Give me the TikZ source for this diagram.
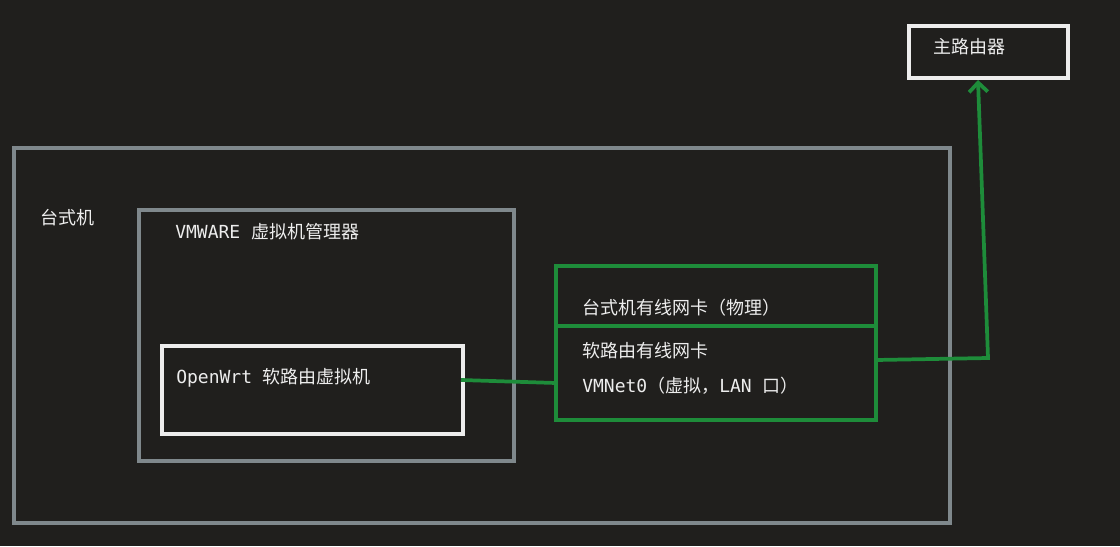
\documentclass[tikz,border=0pt]{standalone}
\usepackage{fontspec}
\usetikzlibrary{arrows.meta}
\newfontfamily\cjk{Noto Sans CJK SC}
\newfontfamily\mono{DejaVu Sans Mono}
\definecolor{bg}{HTML}{201F1D}
\definecolor{gbox}{HTML}{7F888C}
\definecolor{grn}{HTML}{1E8C3A}
\definecolor{wht}{HTML}{EDEDED}
\begin{document}
\begin{tikzpicture}[x=0.75pt,y=-0.75pt,
  lbl/.style={anchor=west,text=wht,font=\fontsize{13.5}{16}\selectfont,inner sep=0pt},
  gline/.style={draw=grn,line width=2.8pt},
  wline/.style={draw=wht,line width=2.8pt},
  box/.style={draw=gbox,line width=2.6pt}]
\fill[bg] (0,0) rectangle (1120,546);
\useasboundingbox (0,0) rectangle (1120,546);
\draw[box] (14,148) rectangle (950,523);
\draw[box] (139,210) rectangle (514,461);
\node[lbl] (tai) at (40,218) {\cjk 台式机};
\node[lbl] (vm) at (175,232) {\mono VMWARE \cjk 虚拟机管理器};
\draw[wline] (162,346) rectangle (463,434);
\coordinate (owr) at (461,380);
\node[lbl] (ow) at (176,378) {\mono OpenWrt \cjk 软路由虚拟机};
\draw[gline] (556,266) rectangle (876,420);
\draw[gline] (556,326) -- (874,326);
\coordinate (gl) at (556,383);
\coordinate (gr) at (876,360);
\node[lbl] (n1) at (582,308) {\cjk 台式机有线网卡（物理）};
\node[lbl] (n2) at (582,351) {\cjk 软路由有线网卡};
\node[lbl] (n3) at (582,386) {\mono VMNet0\cjk （虚拟，\mono LAN \cjk 口）};
\draw[wline] (909,26) rectangle (1068,78);
\node[lbl] (r) at (933,47) {\cjk 主路由器};
\coordinate (ra) at (978,80);
\draw[gline] (owr) -- (gl);
\draw[gline,-{Straight Barb[length=7pt]}] (gr) -- (988,358) -- (ra);
\end{tikzpicture}
\end{document}
